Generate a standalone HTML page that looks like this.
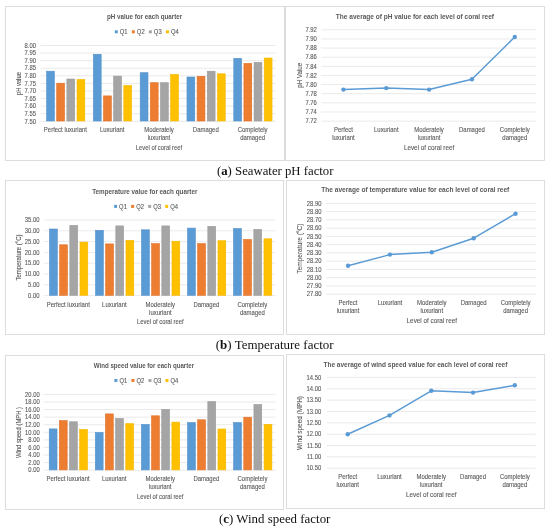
<!DOCTYPE html>
<html><head><meta charset="utf-8"><title>Coral reef factors</title>
<style>
html,body{margin:0;padding:0;background:#fff;}
body{width:550px;height:531px;overflow:hidden;}
svg{display:block;font-family:'Liberation Sans', Arial, sans-serif;filter:blur(0.3px);}
text.c{stroke:#595959;stroke-width:0.1px;}
</style></head><body>
<svg width="550" height="531" viewBox="0 0 550 531">
<rect width="550" height="531" fill="#fff"/>
<rect x="5.5" y="6.5" width="279" height="154" fill="#fff" stroke="#DDDDDD" stroke-width="1"/>
<text x="107.00" y="19.00" font-size="7.1" font-weight="bold" textLength="75.2" lengthAdjust="spacingAndGlyphs" fill="#595959">pH value for each quarter</text>
<rect x="114.80" y="30.30" width="3.00" height="3.00" fill="#5B9BD5"/>
<text transform="translate(119.80,34.00) scale(0.93,1)" font-size="6.3" fill="#595959" class="c">Q1</text>
<rect x="131.83" y="30.30" width="3.00" height="3.00" fill="#ED7D31"/>
<text transform="translate(136.83,34.00) scale(0.93,1)" font-size="6.3" fill="#595959" class="c">Q2</text>
<rect x="148.86" y="30.30" width="3.00" height="3.00" fill="#A5A5A5"/>
<text transform="translate(153.86,34.00) scale(0.93,1)" font-size="6.3" fill="#595959" class="c">Q3</text>
<rect x="165.89" y="30.30" width="3.00" height="3.00" fill="#FFC000"/>
<text transform="translate(170.89,34.00) scale(0.93,1)" font-size="6.3" fill="#595959" class="c">Q4</text>
<line x1="40.50" x2="276.00" y1="45.50" y2="45.50" stroke="#EAEAEA" stroke-width="1"/>
<text transform="translate(36.00,47.70) scale(0.93,1)" font-size="6.3" text-anchor="end" fill="#595959" class="c">8.00</text>
<line x1="40.50" x2="276.00" y1="53.08" y2="53.08" stroke="#EAEAEA" stroke-width="1"/>
<text transform="translate(36.00,55.28) scale(0.93,1)" font-size="6.3" text-anchor="end" fill="#595959" class="c">7.95</text>
<line x1="40.50" x2="276.00" y1="60.66" y2="60.66" stroke="#EAEAEA" stroke-width="1"/>
<text transform="translate(36.00,62.86) scale(0.93,1)" font-size="6.3" text-anchor="end" fill="#595959" class="c">7.90</text>
<line x1="40.50" x2="276.00" y1="68.24" y2="68.24" stroke="#EAEAEA" stroke-width="1"/>
<text transform="translate(36.00,70.44) scale(0.93,1)" font-size="6.3" text-anchor="end" fill="#595959" class="c">7.85</text>
<line x1="40.50" x2="276.00" y1="75.82" y2="75.82" stroke="#EAEAEA" stroke-width="1"/>
<text transform="translate(36.00,78.02) scale(0.93,1)" font-size="6.3" text-anchor="end" fill="#595959" class="c">7.80</text>
<line x1="40.50" x2="276.00" y1="83.40" y2="83.40" stroke="#EAEAEA" stroke-width="1"/>
<text transform="translate(36.00,85.60) scale(0.93,1)" font-size="6.3" text-anchor="end" fill="#595959" class="c">7.75</text>
<line x1="40.50" x2="276.00" y1="90.98" y2="90.98" stroke="#EAEAEA" stroke-width="1"/>
<text transform="translate(36.00,93.18) scale(0.93,1)" font-size="6.3" text-anchor="end" fill="#595959" class="c">7.70</text>
<line x1="40.50" x2="276.00" y1="98.56" y2="98.56" stroke="#EAEAEA" stroke-width="1"/>
<text transform="translate(36.00,100.76) scale(0.93,1)" font-size="6.3" text-anchor="end" fill="#595959" class="c">7.65</text>
<line x1="40.50" x2="276.00" y1="106.14" y2="106.14" stroke="#EAEAEA" stroke-width="1"/>
<text transform="translate(36.00,108.34) scale(0.93,1)" font-size="6.3" text-anchor="end" fill="#595959" class="c">7.60</text>
<line x1="40.50" x2="276.00" y1="113.72" y2="113.72" stroke="#EAEAEA" stroke-width="1"/>
<text transform="translate(36.00,115.92) scale(0.93,1)" font-size="6.3" text-anchor="end" fill="#595959" class="c">7.55</text>
<line x1="40.50" x2="276.00" y1="121.30" y2="121.30" stroke="#EAEAEA" stroke-width="1"/>
<text transform="translate(36.00,123.50) scale(0.93,1)" font-size="6.3" text-anchor="end" fill="#595959" class="c">7.50</text>
<text transform="translate(20.50,83.60) rotate(-90)" text-anchor="middle" font-size="7.0" class="c" fill="#595959" textLength="23" lengthAdjust="spacingAndGlyphs" x="0" y="0">pH value</text>
<rect x="46.57" y="71.20" width="7.80" height="49.80" fill="#5B9BD5" stroke="#5290CB" stroke-width="0.6"/>
<rect x="56.72" y="83.20" width="7.80" height="37.80" fill="#ED7D31" stroke="#E07128" stroke-width="0.6"/>
<rect x="66.88" y="79.00" width="7.80" height="42.00" fill="#A5A5A5" stroke="#9A9A9A" stroke-width="0.6"/>
<rect x="77.02" y="79.40" width="7.80" height="41.60" fill="#FFC000" stroke="#F4B800" stroke-width="0.6"/>
<rect x="93.37" y="54.30" width="7.80" height="66.70" fill="#5B9BD5" stroke="#5290CB" stroke-width="0.6"/>
<rect x="103.52" y="95.90" width="7.80" height="25.10" fill="#ED7D31" stroke="#E07128" stroke-width="0.6"/>
<rect x="113.67" y="76.10" width="7.80" height="44.90" fill="#A5A5A5" stroke="#9A9A9A" stroke-width="0.6"/>
<rect x="123.82" y="85.40" width="7.80" height="35.60" fill="#FFC000" stroke="#F4B800" stroke-width="0.6"/>
<rect x="140.18" y="72.70" width="7.80" height="48.30" fill="#5B9BD5" stroke="#5290CB" stroke-width="0.6"/>
<rect x="150.33" y="82.70" width="7.80" height="38.30" fill="#ED7D31" stroke="#E07128" stroke-width="0.6"/>
<rect x="160.48" y="82.70" width="7.80" height="38.30" fill="#A5A5A5" stroke="#9A9A9A" stroke-width="0.6"/>
<rect x="170.62" y="74.50" width="7.80" height="46.50" fill="#FFC000" stroke="#F4B800" stroke-width="0.6"/>
<rect x="186.97" y="77.00" width="7.80" height="44.00" fill="#5B9BD5" stroke="#5290CB" stroke-width="0.6"/>
<rect x="197.12" y="76.30" width="7.80" height="44.70" fill="#ED7D31" stroke="#E07128" stroke-width="0.6"/>
<rect x="207.28" y="71.20" width="7.80" height="49.80" fill="#A5A5A5" stroke="#9A9A9A" stroke-width="0.6"/>
<rect x="217.43" y="73.80" width="7.80" height="47.20" fill="#FFC000" stroke="#F4B800" stroke-width="0.6"/>
<rect x="233.78" y="58.30" width="7.80" height="62.70" fill="#5B9BD5" stroke="#5290CB" stroke-width="0.6"/>
<rect x="243.93" y="63.40" width="7.80" height="57.60" fill="#ED7D31" stroke="#E07128" stroke-width="0.6"/>
<rect x="254.08" y="62.40" width="7.80" height="58.60" fill="#A5A5A5" stroke="#9A9A9A" stroke-width="0.6"/>
<rect x="264.23" y="58.00" width="7.80" height="63.00" fill="#FFC000" stroke="#F4B800" stroke-width="0.6"/>
<text transform="translate(65.40,131.70) scale(0.95,1)" font-size="6.3" text-anchor="middle" fill="#595959" class="c">Perfect luxuriant</text>
<text transform="translate(112.20,131.70) scale(0.95,1)" font-size="6.3" text-anchor="middle" fill="#595959" class="c">Luxuriant</text>
<text transform="translate(159.00,131.70) scale(0.95,1)" font-size="6.3" text-anchor="middle" fill="#595959" class="c">Moderately</text>
<text transform="translate(159.00,139.60) scale(0.95,1)" font-size="6.3" text-anchor="middle" fill="#595959" class="c">luxuriant</text>
<text transform="translate(205.80,131.70) scale(0.95,1)" font-size="6.3" text-anchor="middle" fill="#595959" class="c">Damaged</text>
<text transform="translate(252.60,131.70) scale(0.95,1)" font-size="6.3" text-anchor="middle" fill="#595959" class="c">Completely</text>
<text transform="translate(252.60,139.60) scale(0.95,1)" font-size="6.3" text-anchor="middle" fill="#595959" class="c">damaged</text>
<text x="159.00" y="149.50" font-size="6.5" text-anchor="middle" textLength="46.3" lengthAdjust="spacingAndGlyphs" fill="#595959" class="c">Level of coral reef</text>
<rect x="285.5" y="6.5" width="259" height="154" fill="#fff" stroke="#DDDDDD" stroke-width="1"/>
<text x="335.80" y="18.90" font-size="7.1" font-weight="bold" textLength="158.2" lengthAdjust="spacingAndGlyphs" fill="#595959">The average of pH value for each level of coral reef</text>
<line x1="321.20" x2="536.20" y1="29.80" y2="29.80" stroke="#EAEAEA" stroke-width="1"/>
<text transform="translate(316.80,32.00) scale(0.93,1)" font-size="6.3" text-anchor="end" fill="#595959" class="c">7.92</text>
<line x1="321.20" x2="536.20" y1="38.93" y2="38.93" stroke="#EAEAEA" stroke-width="1"/>
<text transform="translate(316.80,41.13) scale(0.93,1)" font-size="6.3" text-anchor="end" fill="#595959" class="c">7.90</text>
<line x1="321.20" x2="536.20" y1="48.06" y2="48.06" stroke="#EAEAEA" stroke-width="1"/>
<text transform="translate(316.80,50.26) scale(0.93,1)" font-size="6.3" text-anchor="end" fill="#595959" class="c">7.88</text>
<line x1="321.20" x2="536.20" y1="57.19" y2="57.19" stroke="#EAEAEA" stroke-width="1"/>
<text transform="translate(316.80,59.39) scale(0.93,1)" font-size="6.3" text-anchor="end" fill="#595959" class="c">7.86</text>
<line x1="321.20" x2="536.20" y1="66.32" y2="66.32" stroke="#EAEAEA" stroke-width="1"/>
<text transform="translate(316.80,68.52) scale(0.93,1)" font-size="6.3" text-anchor="end" fill="#595959" class="c">7.84</text>
<line x1="321.20" x2="536.20" y1="75.45" y2="75.45" stroke="#EAEAEA" stroke-width="1"/>
<text transform="translate(316.80,77.65) scale(0.93,1)" font-size="6.3" text-anchor="end" fill="#595959" class="c">7.82</text>
<line x1="321.20" x2="536.20" y1="84.58" y2="84.58" stroke="#EAEAEA" stroke-width="1"/>
<text transform="translate(316.80,86.78) scale(0.93,1)" font-size="6.3" text-anchor="end" fill="#595959" class="c">7.80</text>
<line x1="321.20" x2="536.20" y1="93.71" y2="93.71" stroke="#EAEAEA" stroke-width="1"/>
<text transform="translate(316.80,95.91) scale(0.93,1)" font-size="6.3" text-anchor="end" fill="#595959" class="c">7.78</text>
<line x1="321.20" x2="536.20" y1="102.84" y2="102.84" stroke="#EAEAEA" stroke-width="1"/>
<text transform="translate(316.80,105.04) scale(0.93,1)" font-size="6.3" text-anchor="end" fill="#595959" class="c">7.76</text>
<line x1="321.20" x2="536.20" y1="111.97" y2="111.97" stroke="#EAEAEA" stroke-width="1"/>
<text transform="translate(316.80,114.17) scale(0.93,1)" font-size="6.3" text-anchor="end" fill="#595959" class="c">7.74</text>
<line x1="321.20" x2="536.20" y1="121.10" y2="121.10" stroke="#EAEAEA" stroke-width="1"/>
<text transform="translate(316.80,123.30) scale(0.93,1)" font-size="6.3" text-anchor="end" fill="#595959" class="c">7.72</text>
<text transform="translate(301.50,75.30) rotate(-90)" text-anchor="middle" font-size="7.0" class="c" fill="#595959" textLength="25" lengthAdjust="spacingAndGlyphs" x="0" y="0">pH Value</text>
<polyline points="343.42,89.60 386.26,88.10 429.10,89.60 471.94,79.20 514.78,37.00" fill="none" stroke="#5B9BD5" stroke-width="1.5" stroke-linejoin="round"/>
<circle cx="343.42" cy="89.60" r="2.2" fill="#5B9BD5"/>
<circle cx="386.26" cy="88.10" r="2.2" fill="#5B9BD5"/>
<circle cx="429.10" cy="89.60" r="2.2" fill="#5B9BD5"/>
<circle cx="471.94" cy="79.20" r="2.2" fill="#5B9BD5"/>
<circle cx="514.78" cy="37.00" r="2.2" fill="#5B9BD5"/>
<text transform="translate(343.42,131.60) scale(0.95,1)" font-size="6.3" text-anchor="middle" fill="#595959" class="c">Perfect</text>
<text transform="translate(343.42,139.60) scale(0.95,1)" font-size="6.3" text-anchor="middle" fill="#595959" class="c">luxuriant</text>
<text transform="translate(386.26,131.60) scale(0.95,1)" font-size="6.3" text-anchor="middle" fill="#595959" class="c">Luxuriant</text>
<text transform="translate(429.10,131.60) scale(0.95,1)" font-size="6.3" text-anchor="middle" fill="#595959" class="c">Moderately</text>
<text transform="translate(429.10,139.60) scale(0.95,1)" font-size="6.3" text-anchor="middle" fill="#595959" class="c">luxuriant</text>
<text transform="translate(471.94,131.60) scale(0.95,1)" font-size="6.3" text-anchor="middle" fill="#595959" class="c">Damaged</text>
<text transform="translate(514.78,131.60) scale(0.95,1)" font-size="6.3" text-anchor="middle" fill="#595959" class="c">Completely</text>
<text transform="translate(514.78,139.60) scale(0.95,1)" font-size="6.3" text-anchor="middle" fill="#595959" class="c">damaged</text>
<text x="429.10" y="149.90" font-size="6.7" text-anchor="middle" textLength="50.4" lengthAdjust="spacingAndGlyphs" fill="#595959" class="c">Level of coral reef</text>
<rect x="5.5" y="180.5" width="278" height="154" fill="#fff" stroke="#DDDDDD" stroke-width="1"/>
<text x="92.20" y="193.70" font-size="7.1" font-weight="bold" textLength="105.2" lengthAdjust="spacingAndGlyphs" fill="#595959">Temperature value for each quarter</text>
<rect x="114.10" y="204.90" width="3.00" height="3.00" fill="#5B9BD5"/>
<text transform="translate(119.10,208.60) scale(0.93,1)" font-size="6.3" fill="#595959" class="c">Q1</text>
<rect x="131.13" y="204.90" width="3.00" height="3.00" fill="#ED7D31"/>
<text transform="translate(136.13,208.60) scale(0.93,1)" font-size="6.3" fill="#595959" class="c">Q2</text>
<rect x="148.16" y="204.90" width="3.00" height="3.00" fill="#A5A5A5"/>
<text transform="translate(153.16,208.60) scale(0.93,1)" font-size="6.3" fill="#595959" class="c">Q3</text>
<rect x="165.19" y="204.90" width="3.00" height="3.00" fill="#FFC000"/>
<text transform="translate(170.19,208.60) scale(0.93,1)" font-size="6.3" fill="#595959" class="c">Q4</text>
<line x1="43.85" x2="275.35" y1="220.00" y2="220.00" stroke="#EAEAEA" stroke-width="1"/>
<text transform="translate(39.50,222.20) scale(0.93,1)" font-size="6.3" text-anchor="end" fill="#595959" class="c">35.00</text>
<line x1="43.85" x2="275.35" y1="230.80" y2="230.80" stroke="#EAEAEA" stroke-width="1"/>
<text transform="translate(39.50,233.00) scale(0.93,1)" font-size="6.3" text-anchor="end" fill="#595959" class="c">30.00</text>
<line x1="43.85" x2="275.35" y1="241.60" y2="241.60" stroke="#EAEAEA" stroke-width="1"/>
<text transform="translate(39.50,243.80) scale(0.93,1)" font-size="6.3" text-anchor="end" fill="#595959" class="c">25.00</text>
<line x1="43.85" x2="275.35" y1="252.40" y2="252.40" stroke="#EAEAEA" stroke-width="1"/>
<text transform="translate(39.50,254.60) scale(0.93,1)" font-size="6.3" text-anchor="end" fill="#595959" class="c">20.00</text>
<line x1="43.85" x2="275.35" y1="263.20" y2="263.20" stroke="#EAEAEA" stroke-width="1"/>
<text transform="translate(39.50,265.40) scale(0.93,1)" font-size="6.3" text-anchor="end" fill="#595959" class="c">15.00</text>
<line x1="43.85" x2="275.35" y1="274.00" y2="274.00" stroke="#EAEAEA" stroke-width="1"/>
<text transform="translate(39.50,276.20) scale(0.93,1)" font-size="6.3" text-anchor="end" fill="#595959" class="c">10.00</text>
<line x1="43.85" x2="275.35" y1="284.80" y2="284.80" stroke="#EAEAEA" stroke-width="1"/>
<text transform="translate(39.50,287.00) scale(0.93,1)" font-size="6.3" text-anchor="end" fill="#595959" class="c">5.00</text>
<line x1="43.85" x2="275.35" y1="295.60" y2="295.60" stroke="#EAEAEA" stroke-width="1"/>
<text transform="translate(39.50,297.80) scale(0.93,1)" font-size="6.3" text-anchor="end" fill="#595959" class="c">0.00</text>
<text transform="translate(21.20,257.50) rotate(-90)" text-anchor="middle" font-size="7.0" class="c" fill="#595959" textLength="46" lengthAdjust="spacingAndGlyphs" x="0" y="0">Temperature (°C)</text>
<rect x="49.53" y="229.00" width="7.80" height="66.30" fill="#5B9BD5" stroke="#5290CB" stroke-width="0.6"/>
<rect x="59.68" y="244.80" width="7.80" height="50.50" fill="#ED7D31" stroke="#E07128" stroke-width="0.6"/>
<rect x="69.83" y="225.40" width="7.80" height="69.90" fill="#A5A5A5" stroke="#9A9A9A" stroke-width="0.6"/>
<rect x="79.98" y="242.10" width="7.80" height="53.20" fill="#FFC000" stroke="#F4B800" stroke-width="0.6"/>
<rect x="95.53" y="230.30" width="7.80" height="65.00" fill="#5B9BD5" stroke="#5290CB" stroke-width="0.6"/>
<rect x="105.68" y="243.90" width="7.80" height="51.40" fill="#ED7D31" stroke="#E07128" stroke-width="0.6"/>
<rect x="115.83" y="225.90" width="7.80" height="69.40" fill="#A5A5A5" stroke="#9A9A9A" stroke-width="0.6"/>
<rect x="125.98" y="240.30" width="7.80" height="55.00" fill="#FFC000" stroke="#F4B800" stroke-width="0.6"/>
<rect x="141.53" y="229.80" width="7.80" height="65.50" fill="#5B9BD5" stroke="#5290CB" stroke-width="0.6"/>
<rect x="151.68" y="243.60" width="7.80" height="51.70" fill="#ED7D31" stroke="#E07128" stroke-width="0.6"/>
<rect x="161.83" y="225.90" width="7.80" height="69.40" fill="#A5A5A5" stroke="#9A9A9A" stroke-width="0.6"/>
<rect x="171.98" y="241.20" width="7.80" height="54.10" fill="#FFC000" stroke="#F4B800" stroke-width="0.6"/>
<rect x="187.53" y="228.10" width="7.80" height="67.20" fill="#5B9BD5" stroke="#5290CB" stroke-width="0.6"/>
<rect x="197.68" y="243.60" width="7.80" height="51.70" fill="#ED7D31" stroke="#E07128" stroke-width="0.6"/>
<rect x="207.83" y="226.30" width="7.80" height="69.00" fill="#A5A5A5" stroke="#9A9A9A" stroke-width="0.6"/>
<rect x="217.98" y="240.70" width="7.80" height="54.60" fill="#FFC000" stroke="#F4B800" stroke-width="0.6"/>
<rect x="233.53" y="228.50" width="7.80" height="66.80" fill="#5B9BD5" stroke="#5290CB" stroke-width="0.6"/>
<rect x="243.68" y="239.40" width="7.80" height="55.90" fill="#ED7D31" stroke="#E07128" stroke-width="0.6"/>
<rect x="253.83" y="229.40" width="7.80" height="65.90" fill="#A5A5A5" stroke="#9A9A9A" stroke-width="0.6"/>
<rect x="263.98" y="238.80" width="7.80" height="56.50" fill="#FFC000" stroke="#F4B800" stroke-width="0.6"/>
<text transform="translate(68.35,306.50) scale(0.95,1)" font-size="6.3" text-anchor="middle" fill="#595959" class="c">Perfect luxuriant</text>
<text transform="translate(114.35,306.50) scale(0.95,1)" font-size="6.3" text-anchor="middle" fill="#595959" class="c">Luxuriant</text>
<text transform="translate(160.35,306.50) scale(0.95,1)" font-size="6.3" text-anchor="middle" fill="#595959" class="c">Moderately</text>
<text transform="translate(160.35,314.60) scale(0.95,1)" font-size="6.3" text-anchor="middle" fill="#595959" class="c">luxuriant</text>
<text transform="translate(206.35,306.50) scale(0.95,1)" font-size="6.3" text-anchor="middle" fill="#595959" class="c">Damaged</text>
<text transform="translate(252.35,306.50) scale(0.95,1)" font-size="6.3" text-anchor="middle" fill="#595959" class="c">Completely</text>
<text transform="translate(252.35,314.60) scale(0.95,1)" font-size="6.3" text-anchor="middle" fill="#595959" class="c">damaged</text>
<text x="160.35" y="324.20" font-size="6.5" text-anchor="middle" textLength="46.5" lengthAdjust="spacingAndGlyphs" fill="#595959" class="c">Level of coral reef</text>
<rect x="286.5" y="180.5" width="258" height="154" fill="#fff" stroke="#DDDDDD" stroke-width="1"/>
<text x="321.30" y="192.00" font-size="7.1" font-weight="bold" textLength="188" lengthAdjust="spacingAndGlyphs" fill="#595959">The average of temperature value for each level of coral reef</text>
<line x1="326.30" x2="536.50" y1="203.40" y2="203.40" stroke="#EAEAEA" stroke-width="1"/>
<text transform="translate(321.50,205.60) scale(0.93,1)" font-size="6.3" text-anchor="end" fill="#595959" class="c">28.90</text>
<line x1="326.30" x2="536.50" y1="211.65" y2="211.65" stroke="#EAEAEA" stroke-width="1"/>
<text transform="translate(321.50,213.85) scale(0.93,1)" font-size="6.3" text-anchor="end" fill="#595959" class="c">28.80</text>
<line x1="326.30" x2="536.50" y1="219.90" y2="219.90" stroke="#EAEAEA" stroke-width="1"/>
<text transform="translate(321.50,222.10) scale(0.93,1)" font-size="6.3" text-anchor="end" fill="#595959" class="c">28.70</text>
<line x1="326.30" x2="536.50" y1="228.15" y2="228.15" stroke="#EAEAEA" stroke-width="1"/>
<text transform="translate(321.50,230.35) scale(0.93,1)" font-size="6.3" text-anchor="end" fill="#595959" class="c">28.60</text>
<line x1="326.30" x2="536.50" y1="236.40" y2="236.40" stroke="#EAEAEA" stroke-width="1"/>
<text transform="translate(321.50,238.60) scale(0.93,1)" font-size="6.3" text-anchor="end" fill="#595959" class="c">28.50</text>
<line x1="326.30" x2="536.50" y1="244.65" y2="244.65" stroke="#EAEAEA" stroke-width="1"/>
<text transform="translate(321.50,246.85) scale(0.93,1)" font-size="6.3" text-anchor="end" fill="#595959" class="c">28.40</text>
<line x1="326.30" x2="536.50" y1="252.90" y2="252.90" stroke="#EAEAEA" stroke-width="1"/>
<text transform="translate(321.50,255.10) scale(0.93,1)" font-size="6.3" text-anchor="end" fill="#595959" class="c">28.30</text>
<line x1="326.30" x2="536.50" y1="261.15" y2="261.15" stroke="#EAEAEA" stroke-width="1"/>
<text transform="translate(321.50,263.35) scale(0.93,1)" font-size="6.3" text-anchor="end" fill="#595959" class="c">28.20</text>
<line x1="326.30" x2="536.50" y1="269.40" y2="269.40" stroke="#EAEAEA" stroke-width="1"/>
<text transform="translate(321.50,271.60) scale(0.93,1)" font-size="6.3" text-anchor="end" fill="#595959" class="c">28.10</text>
<line x1="326.30" x2="536.50" y1="277.65" y2="277.65" stroke="#EAEAEA" stroke-width="1"/>
<text transform="translate(321.50,279.85) scale(0.93,1)" font-size="6.3" text-anchor="end" fill="#595959" class="c">28.00</text>
<line x1="326.30" x2="536.50" y1="285.90" y2="285.90" stroke="#EAEAEA" stroke-width="1"/>
<text transform="translate(321.50,288.10) scale(0.93,1)" font-size="6.3" text-anchor="end" fill="#595959" class="c">27.90</text>
<line x1="326.30" x2="536.50" y1="294.15" y2="294.15" stroke="#EAEAEA" stroke-width="1"/>
<text transform="translate(321.50,296.35) scale(0.93,1)" font-size="6.3" text-anchor="end" fill="#595959" class="c">27.80</text>
<text transform="translate(302.30,248.60) rotate(-90)" text-anchor="middle" font-size="7.0" class="c" fill="#595959" textLength="50" lengthAdjust="spacingAndGlyphs" x="0" y="0">Temperature (°C)</text>
<polyline points="348.04,265.70 389.92,254.60 431.80,252.30 473.68,238.20 515.56,213.70" fill="none" stroke="#5B9BD5" stroke-width="1.5" stroke-linejoin="round"/>
<circle cx="348.04" cy="265.70" r="2.2" fill="#5B9BD5"/>
<circle cx="389.92" cy="254.60" r="2.2" fill="#5B9BD5"/>
<circle cx="431.80" cy="252.30" r="2.2" fill="#5B9BD5"/>
<circle cx="473.68" cy="238.20" r="2.2" fill="#5B9BD5"/>
<circle cx="515.56" cy="213.70" r="2.2" fill="#5B9BD5"/>
<text transform="translate(348.04,305.00) scale(0.95,1)" font-size="6.3" text-anchor="middle" fill="#595959" class="c">Perfect</text>
<text transform="translate(348.04,312.60) scale(0.95,1)" font-size="6.3" text-anchor="middle" fill="#595959" class="c">luxuriant</text>
<text transform="translate(389.92,305.00) scale(0.95,1)" font-size="6.3" text-anchor="middle" fill="#595959" class="c">Luxuriant</text>
<text transform="translate(431.80,305.00) scale(0.95,1)" font-size="6.3" text-anchor="middle" fill="#595959" class="c">Moderately</text>
<text transform="translate(431.80,312.60) scale(0.95,1)" font-size="6.3" text-anchor="middle" fill="#595959" class="c">luxuriant</text>
<text transform="translate(473.68,305.00) scale(0.95,1)" font-size="6.3" text-anchor="middle" fill="#595959" class="c">Damaged</text>
<text transform="translate(515.56,305.00) scale(0.95,1)" font-size="6.3" text-anchor="middle" fill="#595959" class="c">Completely</text>
<text transform="translate(515.56,312.60) scale(0.95,1)" font-size="6.3" text-anchor="middle" fill="#595959" class="c">damaged</text>
<text x="431.80" y="322.90" font-size="6.7" text-anchor="middle" textLength="50.4" lengthAdjust="spacingAndGlyphs" fill="#595959" class="c">Level of coral reef</text>
<rect x="5.5" y="355.5" width="278" height="154" fill="#fff" stroke="#DDDDDD" stroke-width="1"/>
<text x="93.80" y="367.70" font-size="7.1" font-weight="bold" textLength="100.3" lengthAdjust="spacingAndGlyphs" fill="#595959">Wind speed value for each quarter</text>
<rect x="114.40" y="379.00" width="3.00" height="3.00" fill="#5B9BD5"/>
<text transform="translate(119.40,382.70) scale(0.93,1)" font-size="6.3" fill="#595959" class="c">Q1</text>
<rect x="131.43" y="379.00" width="3.00" height="3.00" fill="#ED7D31"/>
<text transform="translate(136.43,382.70) scale(0.93,1)" font-size="6.3" fill="#595959" class="c">Q2</text>
<rect x="148.46" y="379.00" width="3.00" height="3.00" fill="#A5A5A5"/>
<text transform="translate(153.46,382.70) scale(0.93,1)" font-size="6.3" fill="#595959" class="c">Q3</text>
<rect x="165.49" y="379.00" width="3.00" height="3.00" fill="#FFC000"/>
<text transform="translate(170.49,382.70) scale(0.93,1)" font-size="6.3" fill="#595959" class="c">Q4</text>
<line x1="43.50" x2="275.50" y1="394.40" y2="394.40" stroke="#EAEAEA" stroke-width="1"/>
<text transform="translate(39.70,396.60) scale(0.93,1)" font-size="6.3" text-anchor="end" fill="#595959" class="c">20.00</text>
<line x1="43.50" x2="275.50" y1="401.98" y2="401.98" stroke="#EAEAEA" stroke-width="1"/>
<text transform="translate(39.70,404.18) scale(0.93,1)" font-size="6.3" text-anchor="end" fill="#595959" class="c">18.00</text>
<line x1="43.50" x2="275.50" y1="409.56" y2="409.56" stroke="#EAEAEA" stroke-width="1"/>
<text transform="translate(39.70,411.76) scale(0.93,1)" font-size="6.3" text-anchor="end" fill="#595959" class="c">16.00</text>
<line x1="43.50" x2="275.50" y1="417.14" y2="417.14" stroke="#EAEAEA" stroke-width="1"/>
<text transform="translate(39.70,419.34) scale(0.93,1)" font-size="6.3" text-anchor="end" fill="#595959" class="c">14.00</text>
<line x1="43.50" x2="275.50" y1="424.72" y2="424.72" stroke="#EAEAEA" stroke-width="1"/>
<text transform="translate(39.70,426.92) scale(0.93,1)" font-size="6.3" text-anchor="end" fill="#595959" class="c">12.00</text>
<line x1="43.50" x2="275.50" y1="432.30" y2="432.30" stroke="#EAEAEA" stroke-width="1"/>
<text transform="translate(39.70,434.50) scale(0.93,1)" font-size="6.3" text-anchor="end" fill="#595959" class="c">10.00</text>
<line x1="43.50" x2="275.50" y1="439.88" y2="439.88" stroke="#EAEAEA" stroke-width="1"/>
<text transform="translate(39.70,442.08) scale(0.93,1)" font-size="6.3" text-anchor="end" fill="#595959" class="c">8.00</text>
<line x1="43.50" x2="275.50" y1="447.46" y2="447.46" stroke="#EAEAEA" stroke-width="1"/>
<text transform="translate(39.70,449.66) scale(0.93,1)" font-size="6.3" text-anchor="end" fill="#595959" class="c">6.00</text>
<line x1="43.50" x2="275.50" y1="455.04" y2="455.04" stroke="#EAEAEA" stroke-width="1"/>
<text transform="translate(39.70,457.24) scale(0.93,1)" font-size="6.3" text-anchor="end" fill="#595959" class="c">4.00</text>
<line x1="43.50" x2="275.50" y1="462.62" y2="462.62" stroke="#EAEAEA" stroke-width="1"/>
<text transform="translate(39.70,464.82) scale(0.93,1)" font-size="6.3" text-anchor="end" fill="#595959" class="c">2.00</text>
<line x1="43.50" x2="275.50" y1="470.20" y2="470.20" stroke="#EAEAEA" stroke-width="1"/>
<text transform="translate(39.70,472.40) scale(0.93,1)" font-size="6.3" text-anchor="end" fill="#595959" class="c">0.00</text>
<text transform="translate(21.10,432.50) rotate(-90)" text-anchor="middle" font-size="7.0" class="c" fill="#595959" textLength="51" lengthAdjust="spacingAndGlyphs" x="0" y="0">Wind speed (MPH )</text>
<rect x="49.22" y="428.90" width="7.80" height="41.00" fill="#5B9BD5" stroke="#5290CB" stroke-width="0.6"/>
<rect x="59.37" y="420.60" width="7.80" height="49.30" fill="#ED7D31" stroke="#E07128" stroke-width="0.6"/>
<rect x="69.52" y="421.80" width="7.80" height="48.10" fill="#A5A5A5" stroke="#9A9A9A" stroke-width="0.6"/>
<rect x="79.67" y="429.50" width="7.80" height="40.40" fill="#FFC000" stroke="#F4B800" stroke-width="0.6"/>
<rect x="95.32" y="432.50" width="7.80" height="37.40" fill="#5B9BD5" stroke="#5290CB" stroke-width="0.6"/>
<rect x="105.47" y="413.90" width="7.80" height="56.00" fill="#ED7D31" stroke="#E07128" stroke-width="0.6"/>
<rect x="115.62" y="418.50" width="7.80" height="51.40" fill="#A5A5A5" stroke="#9A9A9A" stroke-width="0.6"/>
<rect x="125.77" y="423.60" width="7.80" height="46.30" fill="#FFC000" stroke="#F4B800" stroke-width="0.6"/>
<rect x="141.43" y="424.50" width="7.80" height="45.40" fill="#5B9BD5" stroke="#5290CB" stroke-width="0.6"/>
<rect x="151.58" y="415.80" width="7.80" height="54.10" fill="#ED7D31" stroke="#E07128" stroke-width="0.6"/>
<rect x="161.73" y="409.40" width="7.80" height="60.50" fill="#A5A5A5" stroke="#9A9A9A" stroke-width="0.6"/>
<rect x="171.88" y="422.10" width="7.80" height="47.80" fill="#FFC000" stroke="#F4B800" stroke-width="0.6"/>
<rect x="187.53" y="422.50" width="7.80" height="47.40" fill="#5B9BD5" stroke="#5290CB" stroke-width="0.6"/>
<rect x="197.68" y="419.80" width="7.80" height="50.10" fill="#ED7D31" stroke="#E07128" stroke-width="0.6"/>
<rect x="207.83" y="401.60" width="7.80" height="68.30" fill="#A5A5A5" stroke="#9A9A9A" stroke-width="0.6"/>
<rect x="217.98" y="429.00" width="7.80" height="40.90" fill="#FFC000" stroke="#F4B800" stroke-width="0.6"/>
<rect x="233.63" y="422.50" width="7.80" height="47.40" fill="#5B9BD5" stroke="#5290CB" stroke-width="0.6"/>
<rect x="243.78" y="417.20" width="7.80" height="52.70" fill="#ED7D31" stroke="#E07128" stroke-width="0.6"/>
<rect x="253.93" y="404.50" width="7.80" height="65.40" fill="#A5A5A5" stroke="#9A9A9A" stroke-width="0.6"/>
<rect x="264.08" y="424.30" width="7.80" height="45.60" fill="#FFC000" stroke="#F4B800" stroke-width="0.6"/>
<text transform="translate(68.05,480.50) scale(0.95,1)" font-size="6.3" text-anchor="middle" fill="#595959" class="c">Perfect luxuriant</text>
<text transform="translate(114.15,480.50) scale(0.95,1)" font-size="6.3" text-anchor="middle" fill="#595959" class="c">Luxuriant</text>
<text transform="translate(160.25,480.50) scale(0.95,1)" font-size="6.3" text-anchor="middle" fill="#595959" class="c">Moderately</text>
<text transform="translate(160.25,488.50) scale(0.95,1)" font-size="6.3" text-anchor="middle" fill="#595959" class="c">luxuriant</text>
<text transform="translate(206.35,480.50) scale(0.95,1)" font-size="6.3" text-anchor="middle" fill="#595959" class="c">Damaged</text>
<text transform="translate(252.45,480.50) scale(0.95,1)" font-size="6.3" text-anchor="middle" fill="#595959" class="c">Completely</text>
<text transform="translate(252.45,488.50) scale(0.95,1)" font-size="6.3" text-anchor="middle" fill="#595959" class="c">damaged</text>
<text x="160.25" y="498.60" font-size="6.5" text-anchor="middle" textLength="46.4" lengthAdjust="spacingAndGlyphs" fill="#595959" class="c">Level of coral reef</text>
<rect x="286.5" y="354.5" width="258" height="154" fill="#fff" stroke="#DDDDDD" stroke-width="1"/>
<text x="323.50" y="366.70" font-size="7.1" font-weight="bold" textLength="183.8" lengthAdjust="spacingAndGlyphs" fill="#595959">The average of wind speed value for each level of coral reef</text>
<line x1="326.80" x2="535.70" y1="377.40" y2="377.40" stroke="#EAEAEA" stroke-width="1"/>
<text transform="translate(321.20,379.60) scale(0.93,1)" font-size="6.3" text-anchor="end" fill="#595959" class="c">14.50</text>
<line x1="326.80" x2="535.70" y1="388.76" y2="388.76" stroke="#EAEAEA" stroke-width="1"/>
<text transform="translate(321.20,390.96) scale(0.93,1)" font-size="6.3" text-anchor="end" fill="#595959" class="c">14.00</text>
<line x1="326.80" x2="535.70" y1="400.12" y2="400.12" stroke="#EAEAEA" stroke-width="1"/>
<text transform="translate(321.20,402.32) scale(0.93,1)" font-size="6.3" text-anchor="end" fill="#595959" class="c">13.50</text>
<line x1="326.80" x2="535.70" y1="411.48" y2="411.48" stroke="#EAEAEA" stroke-width="1"/>
<text transform="translate(321.20,413.68) scale(0.93,1)" font-size="6.3" text-anchor="end" fill="#595959" class="c">13.00</text>
<line x1="326.80" x2="535.70" y1="422.84" y2="422.84" stroke="#EAEAEA" stroke-width="1"/>
<text transform="translate(321.20,425.04) scale(0.93,1)" font-size="6.3" text-anchor="end" fill="#595959" class="c">12.50</text>
<line x1="326.80" x2="535.70" y1="434.20" y2="434.20" stroke="#EAEAEA" stroke-width="1"/>
<text transform="translate(321.20,436.40) scale(0.93,1)" font-size="6.3" text-anchor="end" fill="#595959" class="c">12.00</text>
<line x1="326.80" x2="535.70" y1="445.56" y2="445.56" stroke="#EAEAEA" stroke-width="1"/>
<text transform="translate(321.20,447.76) scale(0.93,1)" font-size="6.3" text-anchor="end" fill="#595959" class="c">11.50</text>
<line x1="326.80" x2="535.70" y1="456.92" y2="456.92" stroke="#EAEAEA" stroke-width="1"/>
<text transform="translate(321.20,459.12) scale(0.93,1)" font-size="6.3" text-anchor="end" fill="#595959" class="c">11.00</text>
<line x1="326.80" x2="535.70" y1="468.28" y2="468.28" stroke="#EAEAEA" stroke-width="1"/>
<text transform="translate(321.20,470.48) scale(0.93,1)" font-size="6.3" text-anchor="end" fill="#595959" class="c">10.50</text>
<text transform="translate(302.20,423.00) rotate(-90)" text-anchor="middle" font-size="7.0" class="c" fill="#595959" textLength="54" lengthAdjust="spacingAndGlyphs" x="0" y="0">Wind speed (MPH)</text>
<polyline points="347.69,434.20 389.47,415.40 431.25,390.80 473.03,392.60 514.81,385.30" fill="none" stroke="#5B9BD5" stroke-width="1.5" stroke-linejoin="round"/>
<circle cx="347.69" cy="434.20" r="2.2" fill="#5B9BD5"/>
<circle cx="389.47" cy="415.40" r="2.2" fill="#5B9BD5"/>
<circle cx="431.25" cy="390.80" r="2.2" fill="#5B9BD5"/>
<circle cx="473.03" cy="392.60" r="2.2" fill="#5B9BD5"/>
<circle cx="514.81" cy="385.30" r="2.2" fill="#5B9BD5"/>
<text transform="translate(347.69,478.80) scale(0.95,1)" font-size="6.3" text-anchor="middle" fill="#595959" class="c">Perfect</text>
<text transform="translate(347.69,487.00) scale(0.95,1)" font-size="6.3" text-anchor="middle" fill="#595959" class="c">luxuriant</text>
<text transform="translate(389.47,478.80) scale(0.95,1)" font-size="6.3" text-anchor="middle" fill="#595959" class="c">Luxuriant</text>
<text transform="translate(431.25,478.80) scale(0.95,1)" font-size="6.3" text-anchor="middle" fill="#595959" class="c">Moderately</text>
<text transform="translate(431.25,487.00) scale(0.95,1)" font-size="6.3" text-anchor="middle" fill="#595959" class="c">luxuriant</text>
<text transform="translate(473.03,478.80) scale(0.95,1)" font-size="6.3" text-anchor="middle" fill="#595959" class="c">Damaged</text>
<text transform="translate(514.81,478.80) scale(0.95,1)" font-size="6.3" text-anchor="middle" fill="#595959" class="c">Completely</text>
<text transform="translate(514.81,487.00) scale(0.95,1)" font-size="6.3" text-anchor="middle" fill="#595959" class="c">damaged</text>
<text x="431.25" y="496.60" font-size="6.7" text-anchor="middle" textLength="50.4" lengthAdjust="spacingAndGlyphs" fill="#595959" class="c">Level of coral reef</text>
<text x="217" y="175.3" font-family="'Liberation Serif', 'Times New Roman', serif" font-size="11.5" fill="#111" textLength="116.5" lengthAdjust="spacingAndGlyphs">(<tspan font-weight="bold">a</tspan>) Seawater pH factor</text>
<text x="215.8" y="349.3" font-family="'Liberation Serif', 'Times New Roman', serif" font-size="11.5" fill="#111" textLength="117.8" lengthAdjust="spacingAndGlyphs">(<tspan font-weight="bold">b</tspan>) Temperature factor</text>
<text x="219" y="523" font-family="'Liberation Serif', 'Times New Roman', serif" font-size="11.5" fill="#111" textLength="111.4" lengthAdjust="spacingAndGlyphs">(<tspan font-weight="bold">c</tspan>) Wind speed factor</text>
</svg>
</body></html>
